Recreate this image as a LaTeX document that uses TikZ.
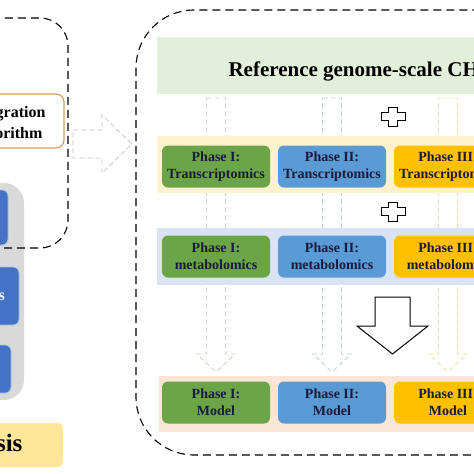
\documentclass[tikz,border=0pt]{standalone}
\usepackage{fontspec}
\setmainfont{Liberation Serif}
\definecolor{bandgreen}{HTML}{E2EFDA}
\definecolor{bandyellow}{HTML}{FFF2CC}
\definecolor{bandblue}{HTML}{DAE3F3}
\definecolor{bandpeach}{HTML}{FBE5D6}
\definecolor{phgreen}{HTML}{6BA547}
\definecolor{phblue}{HTML}{5B9BD5}
\definecolor{phorange}{HTML}{FFC000}
\definecolor{phtext}{HTML}{1A1A3A}
\definecolor{arrowgreen}{HTML}{C9D2C5}
\definecolor{arrowblue}{HTML}{BFCCDA}
\definecolor{arrowyellow}{HTML}{EFDDA8}
\definecolor{arrowgrey}{HTML}{C4C4C4}
\definecolor{panelgrey}{HTML}{D9D9D9}
\definecolor{omicblue}{HTML}{4472C4}
\definecolor{omicedge}{HTML}{9DC3E6}
\definecolor{algoedge}{HTML}{D49C62}
\definecolor{analysisyellow}{HTML}{FFE699}
\begin{document}
\begin{tikzpicture}[x=1pt,y=-1pt,
    phasebox/.style={rounded corners=6pt,minimum width=108pt,minimum height=42pt,inner sep=0pt,
        align=center,text=phtext,font=\fontsize{14}{17}\selectfont\bfseries},
    panelline/.style={dash pattern=on 8pt off 5pt,line width=1.1pt},
    hollowarrow/.style={dash pattern=on 5pt off 3pt,line width=0.8pt}]
    \useasboundingbox (0,0) rectangle (474,474);
    %% Right panel
    \draw[panelline,rounded corners=58pt] (136,10) rectangle (560,455);
    \fill[bandgreen] (157,37) rectangle (520,94);
    \node[anchor=base west,font=\fontsize{21}{25}\selectfont\bfseries] (title) at (225,76) {Reference genome-scale CH};
    %% Dashed arrows behind the bands
    \foreach \cx/\col in {216/arrowgreen,332/arrowblue,448/arrowyellow}
        \draw[hollowarrow,draw=\col] (\cx-9.5,98) -- (\cx+9.5,98) -- (\cx+9.5,354) -- (\cx+19,354)
            -- (\cx,372) -- (\cx-19,354) -- (\cx-9.5,354) -- cycle;
    \fill[bandyellow] (157,136) rectangle (520,193);
    \fill[bandblue] (157,228) rectangle (520,285);
    \fill[bandpeach] (159,376) rectangle (520,432);
    %% Phase boxes
    \foreach \n/\cx/\col/\ph in {1/216/phgreen/I,2/332/phblue/II,3/448/phorange/III}{
        \node[phasebox,fill=\col] (trans\n) at (\cx,166.5) {Phase \ph:\\Transcriptomics};
        \node[phasebox,fill=\col] (meta\n) at (\cx,256.5) {Phase \ph:\\metabolomics};
        \node[phasebox,fill=\col] (model\n) at (\cx,402.5) {Phase \ph:\\Model};
    }
    %% Plus signs and the big arrow
    \foreach \py in {116.5,211.5}
        \draw[line width=0.9pt,fill=white] (388.5,\py-9.5) -- (397.5,\py-9.5) -- (397.5,\py-4) -- (405,\py-4)
            -- (405,\py+4) -- (397.5,\py+4) -- (397.5,\py+9.5) -- (388.5,\py+9.5) -- (388.5,\py+4)
            -- (381,\py+4) -- (381,\py-4) -- (388.5,\py-4) -- cycle;
    \draw[line width=1pt,fill=white] (375,297) -- (410,297) -- (410,326) -- (428,326) -- (392.5,354)
        -- (357,326) -- (375,326) -- cycle;
    %% Left panel
    \draw[hollowarrow,draw=arrowgrey] (73,130) -- (102,130) -- (102,115) -- (132,144) -- (102,173)
        -- (102,158) -- (73,158) -- cycle;
    \fill[panelgrey,rounded corners=20pt] (-40,183) rectangle (24,400);
    \draw[omicedge,fill=omicblue,line width=0.8pt,rounded corners=6pt] (-40,190) rectangle (8,245);
    \draw[omicedge,fill=omicblue,line width=0.8pt,rounded corners=6pt] (-40,267) rectangle (19,325);
    \draw[omicedge,fill=omicblue,line width=0.8pt,rounded corners=6pt] (-40,345) rectangle (11,393);
    \node[anchor=base east,text=white,font=\fontsize{16}{19}\selectfont\bfseries] (omics) at (8.5,300) {s};
    \draw[panelline,rounded corners=28pt] (-40,18) rectangle (68,248);
    \draw[algoedge,line width=1.2pt,fill=white,rounded corners=8pt] (-40,94) rectangle (64,148);
    \node[anchor=base east,font=\fontsize{16}{19}\selectfont\bfseries] (algo1) at (49,117) {gration};
    \node[anchor=base east,font=\fontsize{16}{19}\selectfont\bfseries] (algo2) at (46,138) {orithm};
    \fill[analysisyellow,rounded corners=5pt] (-40,423) rectangle (63,467);
    \node[anchor=base east,font=\fontsize{25}{30}\selectfont\bfseries] (analysis) at (26,451) {sis};
\end{tikzpicture}
\end{document}
